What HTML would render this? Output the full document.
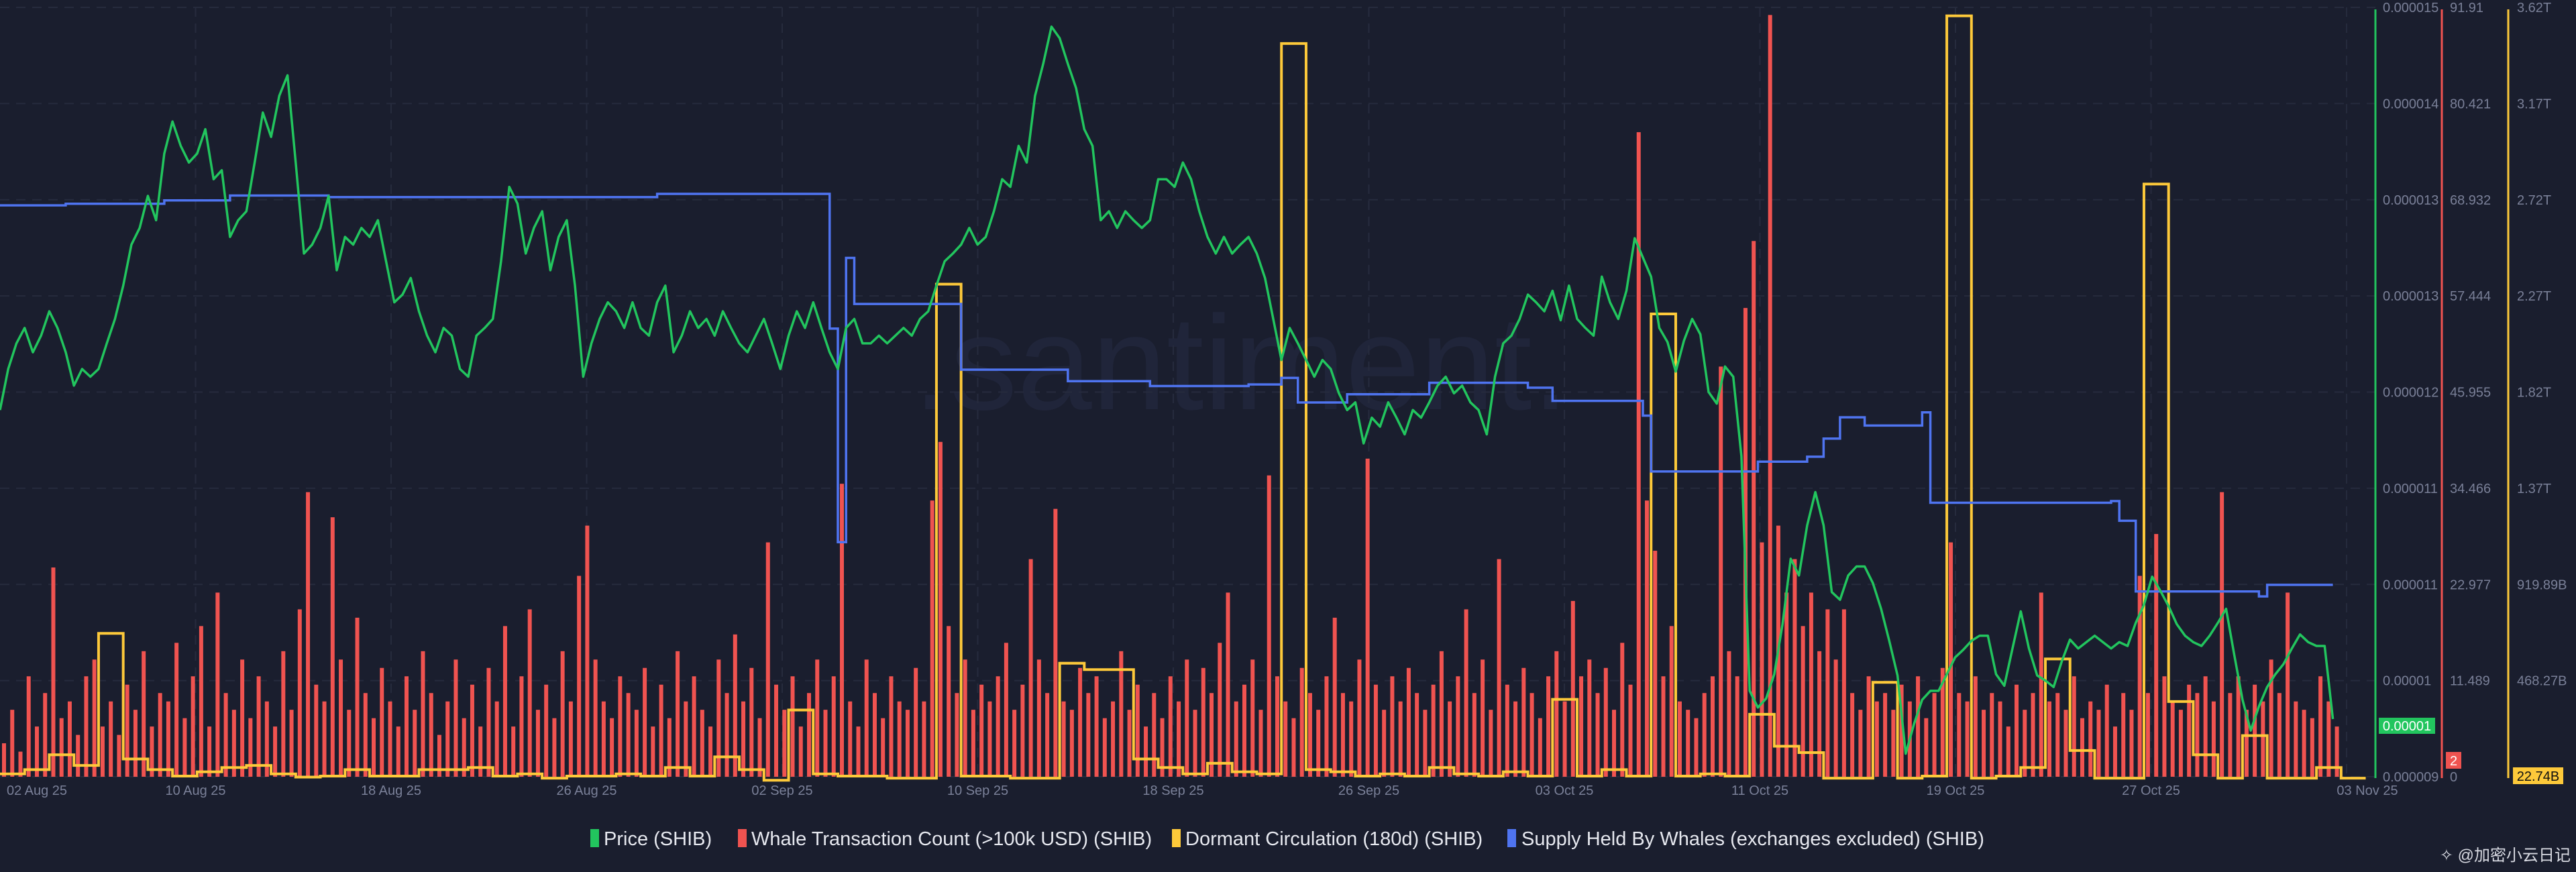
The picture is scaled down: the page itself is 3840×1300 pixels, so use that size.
<!DOCTYPE html>
<html><head><meta charset="utf-8"><style>
html,body{margin:0;padding:0;background:#1a1e2e;}
svg{display:block;font-family:"Liberation Sans",sans-serif;}
</style></head><body>
<svg id="chart" width="3840" height="1300" viewBox="0 0 3840 1300" xmlns="http://www.w3.org/2000/svg">
<rect x="0" y="0" width="3840" height="1300" fill="#1a1e2e"/>
<text x="1850" y="610" text-anchor="middle" font-size="200" fill="#20253a">.santiment.</text>
<g id="grid"></g>
<g id="bars"></g>
<g id="lines"></g>
<g id="axes"></g>
<g id="legend">
 <rect x="880" y="1236" width="13" height="27" fill="#22c55e"/>
 <text x="900" y="1260" font-size="29" fill="#e6e8ef">Price (SHIB)</text>
 <rect x="1100" y="1236" width="13" height="27" fill="#f05350"/>
 <text x="1120" y="1260" font-size="29" fill="#e6e8ef">Whale Transaction Count (&gt;100k USD) (SHIB)</text>
 <rect x="1747" y="1236" width="13" height="27" fill="#fdc93a"/>
 <text x="1767" y="1260" font-size="29" fill="#e6e8ef">Dormant Circulation (180d) (SHIB)</text>
 <rect x="2247" y="1236" width="13" height="27" fill="#4f74f0"/>
 <text x="2268" y="1260" font-size="29" fill="#e6e8ef">Supply Held By Whales (exchanges excluded) (SHIB)</text>
</g>
<text x="3832" y="1283" text-anchor="end" font-size="24" fill="#d8dae2" font-family="'Liberation Sans','Noto Sans CJK SC',sans-serif">✧ @加密小云日记</text>
</svg>
<script>
const xLabels = ["02 Aug 25","10 Aug 25","18 Aug 25","26 Aug 25","02 Sep 25","10 Sep 25","18 Sep 25","26 Sep 25","03 Oct 25","11 Oct 25","19 Oct 25","27 Oct 25","03 Nov 25"];
const priceTicks = ["0.000015","0.000014","0.000013","0.000013","0.000012","0.000011","0.000011","0.00001","0.000009"];
const whaleTicks = ["91.91","80.421","68.932","57.444","45.955","34.466","22.977","11.489","0"];
const dormantTicks = ["3.62T","3.17T","2.72T","2.27T","1.82T","1.37T","919.89B","468.27B"];
const price = [
11.86,12.18,12.38,12.50,12.31,12.44,12.63,12.50,12.31,12.05,
12.18,12.12,12.18,12.38,12.57,12.83,13.15,13.28,13.53,13.34,
13.86,14.11,13.92,13.79,13.86,14.05,13.66,13.73,13.21,13.34,
13.41,13.79,14.18,13.99,14.31,14.47,13.79,13.08,13.15,13.28,
13.53,12.95,13.21,13.15,13.28,13.21,13.34,13.02,12.70,12.76,
12.89,12.63,12.44,12.31,12.50,12.44,12.18,12.12,12.44,12.50,
12.57,13.02,13.60,13.47,13.08,13.28,13.41,12.95,13.21,13.34,
12.83,12.12,12.38,12.57,12.70,12.63,12.50,12.70,12.50,12.44,
12.70,12.83,12.31,12.44,12.63,12.50,12.57,12.44,12.63,12.50,
12.38,12.31,12.44,12.57,12.38,12.18,12.44,12.63,12.50,12.70,
12.50,12.31,12.18,12.50,12.57,12.38,12.38,12.44,12.38,12.44,
12.50,12.44,12.57,12.63,12.83,13.02,13.08,13.15,13.28,13.15,
13.21,13.41,13.66,13.60,13.92,13.79,14.31,14.56,14.85,14.76,
14.56,14.37,14.05,13.92,13.34,13.41,13.28,13.41,13.34,13.28,
13.34,13.66,13.66,13.60,13.79,13.66,13.41,13.21,13.08,13.21,
13.08,13.15,13.21,13.08,12.89,12.57,12.25,12.50,12.38,12.25,
12.12,12.25,12.18,11.99,11.86,11.92,11.60,11.80,11.73,11.92,
11.80,11.67,11.86,11.80,11.92,12.05,12.12,11.99,12.05,11.92,
11.86,11.67,12.12,12.38,12.44,12.57,12.76,12.70,12.63,12.79,
12.56,12.83,12.57,12.50,12.44,12.90,12.70,12.57,12.79,13.20,
13.05,12.90,12.50,12.39,12.16,12.40,12.57,12.45,12.00,11.91,
12.20,12.12,11.50,9.67,9.54,9.61,9.80,10.19,10.70,10.57,
10.96,11.22,10.96,10.44,10.38,10.57,10.64,10.64,10.51,10.31,
10.06,9.79,9.18,9.41,9.60,9.67,9.67,9.80,9.93,9.99,
10.06,10.10,10.10,9.80,9.71,10.00,10.29,10.00,9.79,9.75,
9.70,9.90,10.07,10.00,10.05,10.10,10.05,10.00,10.05,10.02,
10.20,10.34,10.56,10.45,10.33,10.19,10.10,10.05,10.02,10.10,
10.20,10.31,9.95,9.60,9.36,9.55,9.70,9.80,9.88,10.00,
10.11,10.05,10.02,10.02,9.45];
const whaleTx = [
4,8,3,12,6,10,25,7,9,5,
12,14,6,9,5,11,8,15,6,10,
9,16,7,12,18,6,22,10,8,14,
7,12,9,6,15,8,20,34,11,9,
31,14,8,19,10,7,13,9,6,12,
8,15,10,5,9,14,7,11,6,13,
9,18,6,12,20,8,11,7,15,9,
24,30,14,9,7,12,10,8,13,6,
11,7,15,9,12,8,6,14,10,17,
9,13,7,28,11,8,12,6,10,14,
8,12,35,9,6,14,10,7,12,9,
8,13,9,33,40,18,10,14,8,11,
9,12,16,8,11,26,14,10,32,9,
8,13,10,12,7,9,15,8,11,6,
10,7,12,9,14,8,13,10,16,22,
9,11,14,8,36,12,9,7,13,10,
8,12,19,10,9,14,38,11,8,12,
9,13,10,8,11,15,9,12,20,10,
14,8,26,11,9,13,10,7,12,15,
9,21,12,14,10,13,8,16,11,77,
33,27,12,18,9,8,7,10,12,49,
15,12,56,64,28,91,30,22,26,18,
22,15,20,14,20,10,8,12,9,10,
8,11,9,12,7,10,13,28,10,9,
12,8,10,9,6,11,8,10,22,9,
10,8,12,7,9,8,11,6,10,8,
24,10,29,12,9,8,11,10,12,9,
34,10,12,8,11,9,14,10,22,9,
8,7,12,9,6];
const dormant = [
0.03,0.05,0.12,0.07,0.69,0.10,0.05,0.02,0.04,0.06,
0.07,0.03,0.015,0.02,0.05,0.02,0.02,0.05,0.05,0.06,
0.02,0.03,0.01,0.02,0.02,0.03,0.02,0.06,0.02,0.11,
0.05,0.0,0.33,0.03,0.02,0.02,0.01,0.01,2.33,0.02,
0.02,0.01,0.01,0.55,0.52,0.52,0.10,0.06,0.03,0.08,
0.04,0.03,3.46,0.05,0.04,0.02,0.03,0.02,0.06,0.03,
0.02,0.04,0.02,0.38,0.02,0.05,0.02,2.19,0.02,0.03,
0.02,0.31,0.16,0.13,0.01,0.01,0.46,0.01,0.02,3.59,
0.01,0.02,0.06,0.57,0.14,0.01,0.01,2.80,0.37,0.12,
0.01,0.21,0.01,0.01,0.06,0.01];
const supplyIdx = [0,8,20,28,40,80,100,101,102,103,104,116,117,130,140,152,156,158,164,174,186,189,199,200,201,212,214,220,222,224,227,232,234,235,257,258,260,275,276,284];
const supplyVal = [47.5,47.6,47.8,48.1,48.0,48.2,48.2,40,27,44.3,41.5,41.5,37.5,36.8,36.5,36.6,37,35.5,36,36.7,36.4,35.6,35.6,34.7,31.3,31.3,31.9,32.2,33.3,34.6,34.1,34.1,34.9,29.4,29.5,28.3,24,23.7,24.4,24.4];

const TOP=11, BOT=1158, STEP=12.245, PLOT_R=3541;
const xS = t => t*STEP;
const lin = (d0,d1) => v => BOT - (v-d0)/(d1-d0)*(BOT-TOP);
const yPrice = lin(9,15), yTx = lin(0,91.91), yDorm = lin(0.0167,3.6296), ySup = lin(12.72,59.55);
const NS="http://www.w3.org/2000/svg";
function mk(tag, parent, attrs){const e=document.createElementNS(NS,tag);for(const k in attrs)e.setAttribute(k,attrs[k]);parent.appendChild(e);return e;}

const grid=document.getElementById('grid');
for(let k=0;k<9;k++){
  const y=TOP+k*(BOT-TOP)/8;
  const l=mk('line',grid,{x1:0,x2:PLOT_R,y1:y,y2:y,stroke:'#262b3d','stroke-width':2,'stroke-dasharray':'14 10'});
  
  
}
for(let k=1;k<xLabels.length;k++){
  const x=k*291.5;
  const l=mk('line',grid,{x1:x,x2:x,y1:TOP,y2:BOT,stroke:'#262b3d','stroke-width':2,'stroke-dasharray':'14 10'});
  
  
}

const bars=document.getElementById('bars');
whaleTx.forEach((v,i)=>{
  const y=yTx(v);
  const r=mk('rect',bars,{x:xS(i)+3,y:y,width:6,height:BOT-y,fill:'#f05350'});
  
  
});

const lines=document.getElementById('lines');
let dp='';
dormant.forEach((v,d)=>{const x0=xS(d*3),x1=xS(d*3+3),y=yDorm(v);dp+=(d===0?'M':'L')+x0+','+y+' L'+x1+','+y+' ';});
const dl=mk('path',lines,{d:dp,fill:'none',stroke:'#fdc93a','stroke-width':4,'stroke-linejoin':'miter'});


let sp='';
supplyIdx.forEach((t,i)=>{const x=xS(t),y=ySup(supplyVal[i]);if(i===0)sp+='M'+x+','+y;else{sp+=' L'+x+','+ySup(supplyVal[i-1])+' L'+x+','+y;}});
const sl=mk('path',lines,{d:sp,fill:'none',stroke:'#4f74f0','stroke-width':3.5});


const pp=price.map((v,i)=>(i?'L':'M')+xS(i).toFixed(1)+','+yPrice(v).toFixed(1)).join(' ');
const pl=mk('path',lines,{d:pp,fill:'none',stroke:'#22c55e','stroke-width':3.5,'stroke-linejoin':'round'});



const axes=document.getElementById('axes');
[[3541,'#22c55e','price-axis-line'],[3640,'#f05350','whale-axis-line'],[3739,'#fdc93a','dormant-axis-line']].forEach(a=>{
  const l=mk('line',axes,{x1:a[0],x2:a[0],y1:TOP+3,y2:BOT+2,stroke:a[1],'stroke-width':3});
  
  
});
priceTicks.forEach((s,k)=>{
  const t=mk('text',axes,{x:3552,y:TOP+k*(BOT-TOP)/8+7,'font-size':20,fill:'#7a8098'});t.textContent=s;
  
  
});
whaleTicks.forEach((s,k)=>{
  const t=mk('text',axes,{x:3652,y:TOP+k*(BOT-TOP)/8+7,'font-size':20,fill:'#7a8098'});t.textContent=s;
  
  
});
dormantTicks.forEach((s,k)=>{
  const t=mk('text',axes,{x:3752,y:TOP+k*(BOT-TOP)/8+7,'font-size':20,fill:'#7a8098'});t.textContent=s;
  
  
});
xLabels.forEach((s,k)=>{
  let x=k*291.5; if(k===0)x=55; if(k===xLabels.length-1)x=3529;
  const t=mk('text',axes,{x:x,y:1185,'font-size':20,fill:'#7a8098','text-anchor':'middle'});t.textContent=s;
  
  
});
const badges=[[3546,1070,84,24,'#22c55e','#ffffff','0.00001','price-badge'],[3646,1121,23,25,'#f05350','#ffffff','2','whale-badge'],[3746,1144,75,25,'#fdc93a','#111111','22.74B','dormant-badge']];
badges.forEach(b=>{
  const g=mk('g',axes,{});
  
  
  mk('rect',g,{x:b[0],y:b[1],width:b[2],height:b[3],fill:b[4]});
  const t=mk('text',g,{x:b[0]+b[2]/2,y:b[1]+b[3]-5,'font-size':20,fill:b[5],'text-anchor':'middle'});t.textContent=b[6];
});
</script>
</body></html>
